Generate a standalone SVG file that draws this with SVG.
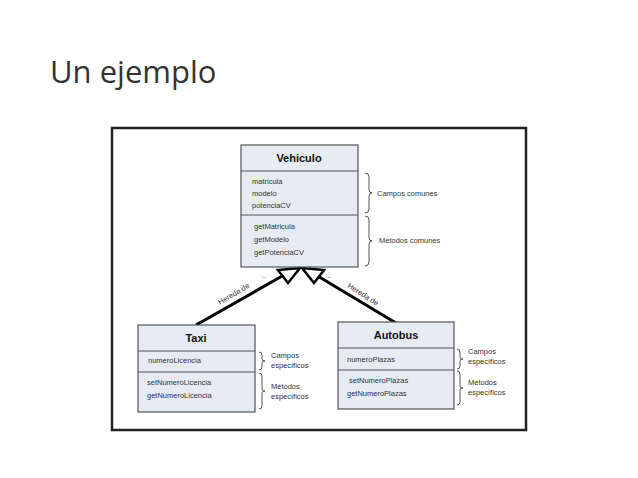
<svg xmlns="http://www.w3.org/2000/svg" width="638" height="478" viewBox="0 0 638 478">
<style>
.box{fill:#e6ebf4;stroke:#555;stroke-width:1.2}
.ln{stroke:#555;stroke-width:1.2}
.t{font-family:"Liberation Sans",Arial,sans-serif;font-size:7.5px;fill:#333}
.h{font-family:"Liberation Sans",Arial,sans-serif;font-size:11px;font-weight:bold;fill:#111;text-anchor:middle}
.br{fill:none;stroke:#555;stroke-width:1}
.c{stroke:#000;stroke-width:3;fill:none}
.tri{fill:#fff;stroke:#000;stroke-width:2.5;stroke-linejoin:miter}
</style>
<rect width="638" height="478" fill="#fff"/>
<text x="50" y="83" font-family="'Open Sans',sans-serif" font-size="31" fill="#333">Un ejemplo</text>
<rect x="112" y="128" width="414" height="302" fill="#fff" stroke="#222" stroke-width="2.5"/>
<g id="connectors">
<line class="c" x1="196" y1="325" x2="284" y2="275"/>
<line class="c" x1="396" y1="323" x2="316" y2="275"/>
<polygon class="tri" points="300,268 278,270 288,283"/>
<polygon class="tri" points="302,268 324,270 314,283"/>
<text class="t" font-size="7" transform="translate(220,305) rotate(-31)">Hereda de</text>
<text class="t" font-size="7" transform="translate(347,287) rotate(33)">Hereda de</text>
<text class="t" x="262" y="278" font-size="6">..</text>
<text class="t" x="327" y="278" font-size="6">..</text>
</g>
<g id="vehiculo">
<rect class="box" x="241" y="145" width="117" height="122"/>
<line class="ln" x1="241" y1="171" x2="358" y2="171"/>
<line class="ln" x1="241" y1="215" x2="358" y2="215"/>
<text class="h" x="299" y="162">Vehiculo</text>
<text class="t" x="252" y="184">matricula</text>
<text class="t" x="252" y="196">modelo</text>
<text class="t" x="252" y="208">potenciaCV</text>
<text class="t" x="254" y="229">getMatricula</text>
<text class="t" x="254" y="242">getModelo</text>
<text class="t" x="254" y="255">getPotenciaCV</text>
<path class="br" d="M365,173 q4,0 4,4 v13 q0,3 3,3 q-3,0 -3,3 v13 q0,4 -4,4"/>
<path class="br" d="M365,216 q4,0 4,4 v18 q0,3 3,3 q-3,0 -3,3 v18 q0,4 -4,4"/>
<text class="t" x="377" y="196">Campos comunes</text>
<text class="t" x="379" y="243">Métodos comunes</text>
</g>
<g id="taxi">
<rect class="box" x="138" y="325" width="117" height="87"/>
<line class="ln" x1="138" y1="351" x2="255" y2="351"/>
<line class="ln" x1="138" y1="372" x2="255" y2="372"/>
<text class="h" x="196" y="342">Taxi</text>
<text class="t" x="148" y="363">numeroLicencia</text>
<text class="t" x="147" y="385">setNumeroLicencia</text>
<text class="t" x="147" y="398">getNumeroLicencia</text>
<path class="br" d="M259,352 q3,0 3,3 v4 q0,2 3,2 q-3,0 -3,2 v4 q0,3 -3,3"/>
<path class="br" d="M259,373 q3,0 3,3 v13 q0,2 3,2 q-3,0 -3,2 v13 q0,3 -3,3"/>
<text class="t" x="271" y="358">Campos</text>
<text class="t" x="271" y="368">específicos</text>
<text class="t" x="271" y="389">Métodos</text>
<text class="t" x="271" y="399">específicos</text>
</g>
<g id="autobus">
<rect class="box" x="338" y="322" width="116" height="87"/>
<line class="ln" x1="338" y1="348" x2="454" y2="348"/>
<line class="ln" x1="338" y1="370" x2="454" y2="370"/>
<text class="h" x="396" y="339">Autobus</text>
<text class="t" x="347" y="362">numeroPlazas</text>
<text class="t" x="349" y="383">setNumeroPlazas</text>
<text class="t" x="347" y="396">getNumeroPlazas</text>
<path class="br" d="M457,349 q3,0 3,3 v5 q0,2 3,2 q-3,0 -3,2 v5 q0,3 -3,3"/>
<path class="br" d="M457,371 q3,0 3,3 v12 q0,2 3,2 q-3,0 -3,2 v12 q0,3 -3,3"/>
<text class="t" x="468" y="354">Campos</text>
<text class="t" x="468" y="364">específicos</text>
<text class="t" x="468" y="385">Métodos</text>
<text class="t" x="468" y="395">específicos</text>
</g>
</svg>
